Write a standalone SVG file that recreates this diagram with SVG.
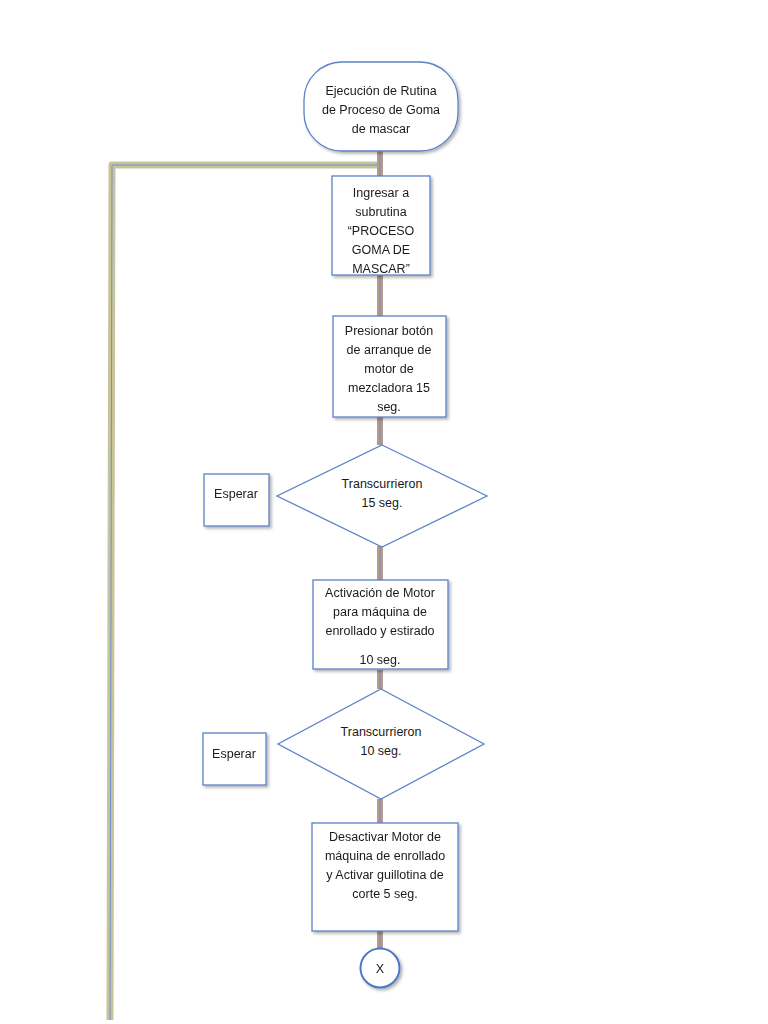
<svg xmlns="http://www.w3.org/2000/svg" width="768" height="1024" viewBox="0 0 768 1024">
<style>
.n{fill:#fff;stroke:#5b82c8;stroke-width:1.3}
.t{font-family:"Liberation Sans",Arial,sans-serif;font-size:12.5px;fill:#1a1a1a;text-anchor:middle}
.cb{stroke:#b89a88;stroke-width:6;fill:none;stroke-linecap:butt}
.cg{stroke:#c8c49a;stroke-width:7;fill:none;stroke-linejoin:round}
.cl{stroke:#6f8fd0;stroke-width:1;fill:none}
</style>
<defs>
<filter id="sh" x="-10%" y="-10%" width="130%" height="130%">
<feDropShadow dx="2" dy="2" stdDeviation="1.5" flood-color="#000" flood-opacity="0.3"/>
</filter>
</defs>
<rect width="768" height="1024" fill="#fff"/>
<g id="connectors">
<path class="cg" d="M380,165 L112,165 L110,1020"/>
<path class="cl" d="M380,165 L112,165 L110,1020"/>
<path class="cb" d="M380,151 V176 M380,275 V316 M380,417 V445 M380,546 V581 M380,670 V689 M380,799 V823 M380,931 V948"/>
<path class="cl" d="M380,151 V176 M380,275 V316 M380,417 V445 M380,546 V581 M380,670 V689 M380,799 V823 M380,931 V948"/>
</g>
<g id="start" filter="url(#sh)">
<rect class="n" x="304" y="62" width="154" height="89" rx="38" ry="38"/>
<text class="t" x="381" y="95">Ejecución de Rutina</text>
<text class="t" x="381" y="114">de Proceso de Goma</text>
<text class="t" x="381" y="133">de mascar</text>
</g>
<g id="subrutina" filter="url(#sh)">
<rect class="n" x="332" y="176" width="98" height="99"/>
<text class="t" x="381" y="197">Ingresar a</text>
<text class="t" x="381" y="216">subrutina</text>
<text class="t" x="381" y="235">“PROCESO</text>
<text class="t" x="381" y="254">GOMA DE</text>
<text class="t" x="381" y="273">MASCAR”</text>
</g>
<g id="presionar" filter="url(#sh)">
<rect class="n" x="333" y="316" width="113" height="101"/>
<text class="t" x="389" y="335">Presionar botón</text>
<text class="t" x="389" y="354">de arranque de</text>
<text class="t" x="389" y="373">motor de</text>
<text class="t" x="389" y="392">mezcladora 15</text>
<text class="t" x="389" y="411">seg.</text>
</g>
<g id="decision1">
<polygon class="n" points="382,445 487,496 382,547 277,496"/>
<text class="t" x="382" y="488">Transcurrieron</text>
<text class="t" x="382" y="507">15 seg.</text>
</g>
<g id="esperar1" filter="url(#sh)">
<rect class="n" x="204" y="474" width="65" height="52"/>
<text class="t" x="236" y="498">Esperar</text>
</g>
<g id="activacion" filter="url(#sh)">
<rect class="n" x="313" y="580" width="135" height="89"/>
<text class="t" x="380" y="597">Activación de Motor</text>
<text class="t" x="380" y="616">para máquina de</text>
<text class="t" x="380" y="635">enrollado y estirado</text>
<text class="t" x="380" y="664">10 seg.</text>
</g>
<g id="decision2">
<polygon class="n" points="381,689 484,744 381,799 278,744"/>
<text class="t" x="381" y="736">Transcurrieron</text>
<text class="t" x="381" y="755">10 seg.</text>
</g>
<g id="esperar2" filter="url(#sh)">
<rect class="n" x="203" y="733" width="63" height="52"/>
<text class="t" x="234" y="758">Esperar</text>
</g>
<g id="desactivar" filter="url(#sh)">
<rect class="n" x="312" y="823" width="146" height="108"/>
<text class="t" x="385" y="841">Desactivar Motor de</text>
<text class="t" x="385" y="860">máquina de enrollado</text>
<text class="t" x="385" y="879">y Activar guillotina de</text>
<text class="t" x="385" y="898">corte 5 seg.</text>
</g>
<g id="conector-x" filter="url(#sh)">
<circle cx="380" cy="968" r="19.5" fill="#fff" stroke="#4f78c4" stroke-width="2"/>
<text class="t" x="380" y="973">X</text>
</g>
</svg>
